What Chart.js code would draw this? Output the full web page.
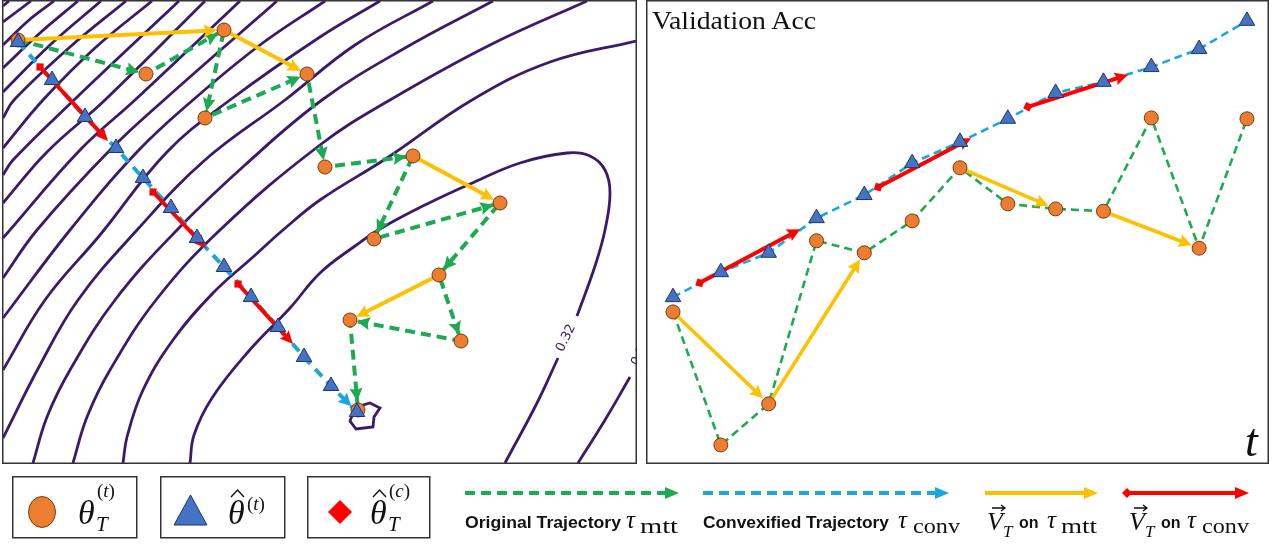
<!doctype html>
<html lang="en">
<head>
<meta charset="utf-8">
<title>Original vs convexified trajectory</title>
<script src="https://cdn.jsdelivr.net/npm/chart.js"></script>
<style>
  html, body { margin: 0; padding: 0; background: #fff; }
  body { width: 1272px; height: 547px; position: relative; overflow: hidden; }
  .panel { position: absolute; }
  #overlay { position: absolute; left: 0; top: 0; pointer-events: none; }
</style>
</head>
<body>
<div class="panel" style="left:3px;top:1px;width:633px;height:462px"><canvas id="lossChart"></canvas></div>
<div class="panel" style="left:647px;top:1px;width:621px;height:462px"><canvas id="accChart"></canvas></div>

<svg id="overlay" width="1272" height="547" xmlns="http://www.w3.org/2000/svg">
  <!-- panel frames -->
  <rect x="2.75" y="0.75" width="633.5" height="462.5" fill="none" stroke="#333" stroke-width="1.5"/>
  <rect x="646.75" y="0.75" width="621.5" height="462.5" fill="none" stroke="#333" stroke-width="1.5"/>
  <text x="652" y="29" font-family="Liberation Serif, DejaVu Serif, serif" font-size="26" textLength="164" lengthAdjust="spacingAndGlyphs" fill="#111">Validation Acc</text>
  <text x="1245" y="456" font-family="Liberation Serif, DejaVu Serif, serif" font-style="italic" font-size="46" fill="#111">t</text>

  <!-- marker legend boxes -->
  <g font-family="Liberation Serif, DejaVu Serif, serif" fill="#111">
    <rect x="12.75" y="476.75" width="124" height="61" fill="none" stroke="#333" stroke-width="1.5"/>
    <ellipse cx="42" cy="512" rx="13.5" ry="15.5" fill="#ED7D31" stroke="#7a3a0c" stroke-width="1"/>
    <text x="78" y="524" font-size="34" font-style="italic">θ</text>
    <text x="97" y="497" font-size="19">(<tspan font-style="italic">t</tspan>)</text>
    <text x="96" y="531" font-size="21" font-style="italic">T</text>

    <rect x="160.75" y="476.75" width="124" height="61" fill="none" stroke="#333" stroke-width="1.5"/>
    <polygon points="174,525 207,525 190.5,495" fill="#4472C4" stroke="#1f3864" stroke-width="1"/>
    <text x="228" y="524" font-size="34" font-style="italic">θ</text>
    <path d="M231,497 L237.5,490 L244,497" fill="none" stroke="#111" stroke-width="1.4"/>
    <text x="247" y="510" font-size="19">(<tspan font-style="italic">t</tspan>)</text>

    <rect x="307.75" y="476.75" width="122" height="61" fill="none" stroke="#333" stroke-width="1.5"/>
    <polygon points="340,500 352,512 340,524 328,512" fill="#FF0000"/>
    <text x="370" y="524" font-size="34" font-style="italic">θ</text>
    <path d="M373,497 L379.5,490 L386,497" fill="none" stroke="#111" stroke-width="1.4"/>
    <text x="389" y="497" font-size="19">(<tspan font-style="italic">c</tspan>)</text>
    <text x="388" y="531" font-size="21" font-style="italic">T</text>
  </g>

  <!-- line legend -->
  <g>
    <line x1="465" y1="493" x2="668" y2="493" stroke="#1DAA52" stroke-width="4" stroke-dasharray="10 6"/>
    <polygon points="679,493 665,487 665,499" fill="#1DAA52"/>
    <line x1="703" y1="493" x2="938" y2="493" stroke="#1AA7E0" stroke-width="4" stroke-dasharray="10 6"/>
    <polygon points="949,493 935,487 935,499" fill="#1AA7E0"/>
    <line x1="985" y1="493" x2="1088" y2="493" stroke="#FFC000" stroke-width="4"/>
    <polygon points="1098,493 1084,487 1084,499" fill="#FFC000"/>
    <line x1="1128" y1="493" x2="1238" y2="493" stroke="#FF0000" stroke-width="4"/>
    <polygon points="1249,493 1235,487 1235,499" fill="#FF0000"/>
    <polygon points="1122,493 1127,488 1132,493 1127,498" fill="#FF0000"/>
  </g>
  <g fill="#111">
    <text x="465" y="528" font-family="Liberation Sans, Arial, sans-serif" font-weight="bold" font-size="16" textLength="156" lengthAdjust="spacingAndGlyphs">Original Trajectory</text>
    <text x="626" y="528" font-family="Liberation Serif, serif" font-style="italic" font-size="25">τ</text>
    <text x="640" y="533" font-family="Liberation Serif, serif" font-size="21" textLength="38" lengthAdjust="spacingAndGlyphs">mtt</text>

    <text x="703" y="528" font-family="Liberation Sans, Arial, sans-serif" font-weight="bold" font-size="16" textLength="186" lengthAdjust="spacingAndGlyphs">Convexified Trajectory</text>
    <text x="898" y="528" font-family="Liberation Serif, serif" font-style="italic" font-size="25">τ</text>
    <text x="913" y="533" font-family="Liberation Serif, serif" font-size="21" textLength="47" lengthAdjust="spacingAndGlyphs">conv</text>

    <text x="987" y="530" font-family="Liberation Serif, serif" font-style="italic" font-size="26">V</text>
    <path d="M992,508 L1005,508 M1001,505 L1005,508 L1001,511" fill="none" stroke="#111" stroke-width="1.3"/>
    <text x="1003" y="537" font-family="Liberation Serif, serif" font-style="italic" font-size="17">T</text>
    <text x="1019" y="528" font-family="Liberation Sans, Arial, sans-serif" font-weight="bold" font-size="16">on</text>
    <text x="1047" y="528" font-family="Liberation Serif, serif" font-style="italic" font-size="25">τ</text>
    <text x="1061" y="533" font-family="Liberation Serif, serif" font-size="21" textLength="36" lengthAdjust="spacingAndGlyphs">mtt</text>

    <text x="1129" y="530" font-family="Liberation Serif, serif" font-style="italic" font-size="26">V</text>
    <path d="M1134,508 L1147,508 M1143,505 L1147,508 L1143,511" fill="none" stroke="#111" stroke-width="1.3"/>
    <text x="1145" y="537" font-family="Liberation Serif, serif" font-style="italic" font-size="17">T</text>
    <text x="1161" y="528" font-family="Liberation Sans, Arial, sans-serif" font-weight="bold" font-size="16">on</text>
    <text x="1187" y="528" font-family="Liberation Serif, serif" font-style="italic" font-size="25">τ</text>
    <text x="1202" y="533" font-family="Liberation Serif, serif" font-size="21" textLength="47" lengthAdjust="spacingAndGlyphs">conv</text>
  </g>
</svg>

<script>
// ---------- left panel: loss landscape (landscape units, y grows downward) ----------
const lossXRange = [3, 636];
const lossYRange = [1, 463];

// original trajectory theta_T^(t), in time order
const origX = [18, 146, 224, 205, 307, 325, 413, 374, 500, 439, 461, 350, 358];
const origY = [40, 74, 30, 118, 74, 167, 156, 239, 203, 275, 341, 320, 410];
// convexified trajectory theta-hat^(t)
const convX = [18, 52, 85, 116, 143, 171, 197, 224, 251, 278, 304, 331, 357];
const convY = [42, 80, 117, 148, 178, 208, 238, 267, 297, 327, 357, 386, 412];
// V_T on tau_conv (start -> end)
const convVecFrom = [[40, 67], [153, 192], [238, 284]];
const convVecTo = [[108, 141], [206, 248], [293, 344]];
// V_T on tau_mtt: pairs of trajectory indices
const mttVecPairs = [[0, 2], [2, 4], [6, 8], [9, 11]];

// contour lines of the loss surface
const contourPaths = [
  [[190,463],[194,435],[212,398],[248,352],[290,308],[320,273],[355,246],[380,229],[425,205],[470,184],[520,163],[567,153],[590,156],[605,170],[610,193],[605,230],[595,266],[577,316]],
  [[558,358],[537,403],[505,463]],
  [[123,463],[127,437],[143,390],[173,340],[213,293],[253,257],[283,230],[320,200],[387,158],[472,100],[550,62],[636,41]],
  [[630,377],[605,420],[578,463]],
  [[73,463],[87,417],[110,370],[156,300],[220,230],[320,145],[390,100],[490,45],[587,1]],
  [[33,463],[47,417],[70,370],[115,300],[177,230],[245,165],[322,100],[405,48],[493,1]],
  [[3,438],[40,365],[78,300],[137,230],[205,160],[285,100],[355,45],[433,1]],
  [[3,370],[45,300],[100,235],[167,152],[230,100],[320,37],[380,1]],
  [[3,318],[70,230],[137,152],[193,100],[260,45],[325,1]],
  [[3,278],[37,230],[110,150],[164,100],[277,1]],
  [[3,238],[80,150],[135,100],[240,1]],
  [[3,203],[47,152],[105,100],[205,1]],
  [[3,175],[13,160],[74,100],[179,1]],
  [[3,148],[43,100],[95,48],[152,1]],
  [[3,118],[14,100],[70,47],[126,1]],
  [[3,92],[50,45],[101,1]],
  [[3,68],[40,33],[78,1]],
  [[3,45],[28,21],[54,1]],
  [[3,22],[31,1]],
  [[3,6],[9,1]],
  [[352,416],[360,406],[370,403],[380,408],[374,417],[373,427],[356,429],[350,421],[352,416]]
];
const contourLabels = [
  { text: '0.32', x: 566, y: 338, angle: -64 },
  { text: '0.34', x: 641, y: 352, angle: -66 }
];

// ---------- right panel: validation accuracy over steps ----------
const steps = [0, 1, 2, 3, 4, 5, 6, 7, 8, 9, 10, 11, 12];
const accOrig = [32.7, 3.9, 12.8, 48.1, 45.5, 52.4, 63.9, 56.1, 55.0, 54.5, 74.7, 46.5, 74.5];
const accConv = [35.9, 41.3, 45.5, 53.0, 58.0, 64.9, 69.5, 74.5, 80.1, 82.5, 85.7, 89.6, 95.7];
const accVecFrom = [[0.56, 39.0], [4.29, 59.7], [7.42, 77.1]];
const accVecTo = [[2.66, 50.6], [6.23, 70.3], [9.51, 84.0]];
const accMttPairs = [[0, 2], [2, 4], [6, 8], [9, 11]];

const ORANGE = '#ED7D31', BLUE = '#4472C4', GREEN = '#1DAA52', CYAN = '#1AA7E0',
      YELLOW = '#FFC000', RED = '#FF0000', PURPLE = '#3b1a69';

function pts(xs, ys) { return xs.map((x, i) => ({ x: x, y: ys[i] })); }

function arrow(ctx, x1, y1, x2, y2, o) {
  const dx = x2 - x1, dy = y2 - y1, len = Math.hypot(dx, dy);
  const ux = dx / len, uy = dy / len;
  const ex = x2 - ux * (o.trimEnd || 0), ey = y2 - uy * (o.trimEnd || 0);
  const hl = o.headLen || 12, hw = o.headHalf || 6;
  ctx.save();
  ctx.strokeStyle = o.color; ctx.fillStyle = o.color; ctx.lineWidth = o.width || 3;
  if (!o.headOnly) {
    ctx.setLineDash(o.dash || []);
    ctx.beginPath(); ctx.moveTo(x1, y1); ctx.lineTo(ex - ux * hl * 0.7, ey - uy * hl * 0.7); ctx.stroke();
    ctx.setLineDash([]);
  }
  ctx.beginPath();
  ctx.moveTo(ex, ey);
  ctx.lineTo(ex - ux * hl - uy * hw, ey - uy * hl + ux * hw);
  ctx.lineTo(ex - ux * hl * 0.85, ey - uy * hl * 0.85);
  ctx.lineTo(ex - ux * hl + uy * hw, ey - uy * hl - ux * hw);
  ctx.closePath(); ctx.fill();
  if (o.tail === 'diamond') {
    const d = o.tailSize || 5;
    ctx.beginPath();
    ctx.moveTo(x1 + ux * d, y1 + uy * d); ctx.lineTo(x1 - uy * d, y1 + ux * d);
    ctx.lineTo(x1 - ux * d, y1 - uy * d); ctx.lineTo(x1 + uy * d, y1 - ux * d);
    ctx.closePath(); ctx.fill();
  }
  ctx.restore();
}

function baseOptions(xr, yr, reverseY) {
  return {
    responsive: true, maintainAspectRatio: false, animation: false,
    layout: { padding: 0, autoPadding: false },
    plugins: { legend: { display: false }, tooltip: { enabled: false } },
    scales: {
      x: { type: 'linear', min: xr[0], max: xr[1], display: false },
      y: { type: 'linear', min: yr[0], max: yr[1], reverse: reverseY, display: false }
    }
  };
}

// ---------- loss landscape chart ----------
const lossDatasets = contourPaths.map(p => ({
  data: p.map(q => ({ x: q[0], y: q[1] })),
  showLine: true, borderColor: PURPLE, borderWidth: 2.8, pointRadius: 0,
  tension: p.length > 8 && p[0][0] === p[p.length - 1][0] ? 0 : 0.4, order: 10
}));
lossDatasets.push({
  data: pts(convX, convY), showLine: true, borderColor: CYAN, borderWidth: 4,
  borderDash: [10, 7], pointRadius: 0, order: 5
});
lossDatasets.push({
  data: pts(origX, origY), showLine: true, borderColor: GREEN, borderWidth: 4,
  borderDash: [10, 6], pointRadius: 0, order: 4
});
const lossCircleIdx = lossDatasets.length;
lossDatasets.push({
  data: pts(origX, origY), pointStyle: 'circle', pointRadius: 7,
  backgroundColor: ORANGE, borderColor: '#7a3a0c', borderWidth: 1, order: 2
});
lossDatasets.push({
  data: pts(convX, convY), pointStyle: 'triangle', pointRadius: 9,
  backgroundColor: BLUE, borderColor: '#1f3864', borderWidth: 1, order: 1
});

const lossOverlay = {
  id: 'lossOverlay',
  beforeDatasetDraw(chart, args) {
    if (args.index !== lossCircleIdx) return;
    const ctx = chart.ctx, sx = chart.scales.x, sy = chart.scales.y;
    const X = v => sx.getPixelForValue(v), Y = v => sy.getPixelForValue(v);
    // contour labels
    ctx.save();
    ctx.beginPath(); ctx.rect(chart.chartArea.left, chart.chartArea.top, chart.chartArea.width, chart.chartArea.height); ctx.clip();
    ctx.fillStyle = PURPLE; ctx.font = '13px "DejaVu Sans", sans-serif';
    ctx.textAlign = 'center'; ctx.textBaseline = 'middle';
    contourLabels.forEach(l => {
      ctx.save(); ctx.translate(X(l.x), Y(l.y)); ctx.rotate(l.angle * Math.PI / 180);
      ctx.fillText(l.text, 0, 0); ctx.restore();
    });
    ctx.restore();
    // V_T on tau_conv
    convVecFrom.forEach((f, i) => {
      const t = convVecTo[i];
      arrow(ctx, X(f[0]), Y(f[1]), X(t[0]), Y(t[1]), { color: RED, width: 4, headLen: 13, headHalf: 6, tail: 'diamond', tailSize: 5 });
    });
    // green arrow heads on the original trajectory
    for (let i = 1; i < origX.length; i++) {
      arrow(ctx, X(origX[i - 1]), Y(origY[i - 1]), X(origX[i]), Y(origY[i]),
        { color: GREEN, headOnly: true, trimEnd: i === origX.length - 1 ? 9 : 7, headLen: 13, headHalf: 6.5 });
    }
    // convexified trajectory arrow head
    const n = convX.length - 1;
    arrow(ctx, X(convX[n - 1]), Y(convY[n - 1]), X(convX[n]), Y(convY[n]),
      { color: CYAN, headOnly: true, trimEnd: 8, headLen: 13, headHalf: 6.5 });
    // V_T on tau_mtt
    mttVecPairs.forEach(p => {
      arrow(ctx, X(origX[p[0]]), Y(origY[p[0]]), X(origX[p[1]]), Y(origY[p[1]]),
        { color: YELLOW, width: 4, trimEnd: 7, headLen: 13, headHalf: 6.5 });
    });
  }
};

new Chart(document.getElementById('lossChart'), {
  type: 'scatter',
  data: { datasets: lossDatasets },
  options: baseOptions(lossXRange, lossYRange, true),
  plugins: [lossOverlay]
});

// ---------- validation accuracy chart ----------
const accDatasets = [
  { data: pts(steps, accConv), showLine: true, borderColor: CYAN, borderWidth: 2.6, borderDash: [8, 5], pointRadius: 0, order: 5 },
  { data: pts(steps, accOrig), showLine: true, borderColor: GREEN, borderWidth: 2.6, borderDash: [8, 5], pointRadius: 0, order: 4 },
  { data: pts(steps, accOrig), pointStyle: 'circle', pointRadius: 7, backgroundColor: ORANGE, borderColor: '#7a3a0c', borderWidth: 1, order: 2 },
  { data: pts(steps, accConv), pointStyle: 'triangle', pointRadius: 9, backgroundColor: BLUE, borderColor: '#1f3864', borderWidth: 1, order: 1 }
];

const accOverlay = {
  id: 'accOverlay',
  beforeDatasetDraw(chart, args) {
    if (args.index !== 2) return;
    const ctx = chart.ctx, sx = chart.scales.x, sy = chart.scales.y;
    const X = v => sx.getPixelForValue(v), Y = v => sy.getPixelForValue(v);
    accMttPairs.forEach(p => {
      arrow(ctx, X(steps[p[0]]), Y(accOrig[p[0]]), X(steps[p[1]]), Y(accOrig[p[1]]),
        { color: YELLOW, width: 3.6, trimEnd: 8, headLen: 13, headHalf: 6.5 });
    });
    accVecFrom.forEach((f, i) => {
      const t = accVecTo[i];
      arrow(ctx, X(f[0]), Y(f[1]), X(t[0]), Y(t[1]), { color: RED, width: 4, headLen: 13, headHalf: 6.5, tail: 'diamond', tailSize: 5 });
    });
  }
};

new Chart(document.getElementById('accChart'), {
  type: 'scatter',
  data: { datasets: accDatasets },
  options: baseOptions([-0.544, 12.44], [0, 100], false),
  plugins: [accOverlay]
});
</script>
</body>
</html>
